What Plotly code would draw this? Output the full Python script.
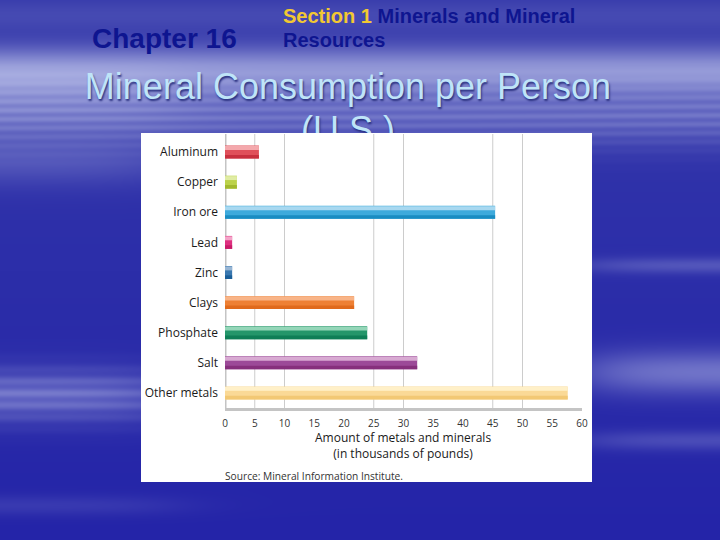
import base64, struct, zlib
import numpy as np
import plotly.graph_objects as go

# ---------------- data ----------------
minerals = ["Aluminum", "Copper", "Iron ore", "Lead", "Zinc", "Clays",
            "Phosphate", "Salt", "Other metals"]
amount_thousand_lb = [5.7, 2.0, 45.4, 1.2, 1.2, 21.7, 23.9, 32.3, 57.6]
x_tick_vals = [0, 5, 10, 15, 20, 25, 30, 35, 40, 45, 50, 55, 60]
grid_vals = [5, 10, 25, 30, 45, 50]

mid_colors = ["#e0505a", "#bcd24a", "#3eaadc", "#de3080", "#3a78b0",
              "#ee8034", "#24966a", "#9c4a98", "#fad996"]
light_colors = ["#f4a8ac", "#e0eca4", "#a8d8f0", "#f4a4c8", "#98b6d4",
                "#f8b488", "#94d6b8", "#d8aad2", "#fff0c8"]
dark_colors = ["#c8303e", "#a2b82e", "#1a8cc2", "#c81a68", "#1a5e98",
               "#e06a1c", "#0e7e56", "#86307c", "#f2c874"]

# ---------------- background image (slide) ----------------
H, W = 540, 720
Y, X = np.mgrid[0:H, 0:W].astype(float)
top = np.array([52, 56, 170.0])
bot = np.array([36, 36, 168.0])
t = (Y / H)[..., None]
base = top * (1 - t) + bot * t
cloud = np.array([200, 206, 240.0])
xl = 1 / (1 + np.exp((X - 170) / 30))
xr = 1 / (1 + np.exp(-(X - 590) / 25))
m = np.zeros_like(Y)
m += 0.62 * np.exp(-((Y - 70) / 24) ** 2)
m += 0.42 * np.exp(-((Y - 115) / 30) ** 2) * (0.85 + 0.15 * np.sin(Y * 0.7 + X * 0.004))
m += 0.12 * np.exp(-((Y - 15) / 15) ** 2)
m += 0.18 * np.exp(-((Y - 95) / 30) ** 2) * xl
m += 0.50 * np.exp(-((Y - 395) / 26) ** 2) * xl * (0.85 + 0.15 * np.sin(Y * 0.5))
m += 0.22 * np.exp(-((Y - 160) / 25) ** 2) * xl
m += 0.25 * np.exp(-((Y - 265) / 8) ** 2) * xr
m += 0.45 * np.exp(-((Y - 372) / 22) ** 2) * xr
m += 0.22 * np.exp(-((Y - 440) / 10) ** 2) * xr
m += 0.12 * np.exp(-((Y - 505) / 10) ** 2) * xl
m = np.clip(m, 0, 0.8)[..., None]
img = np.clip(base * (1 - m) + cloud * m, 0, 255).astype(np.uint8)


def to_png(arr):
    h, w, _ = arr.shape
    raw = b"".join(b"\x00" + arr[r].tobytes() for r in range(h))

    def chunk(tag, data):
        return (struct.pack(">I", len(data)) + tag + data +
                struct.pack(">I", zlib.crc32(tag + data) & 0xFFFFFFFF))
    return (b"\x89PNG\r\n\x1a\n" +
            chunk(b"IHDR", struct.pack(">IIBBBBB", w, h, 8, 2, 0, 0, 0)) +
            chunk(b"IDAT", zlib.compress(raw, 9)) + chunk(b"IEND", b""))


bg_src = "data:image/png;base64," + base64.b64encode(to_png(img)).decode()

# ---------------- figure ----------------
fig = go.Figure()
bar_w = 0.43
fig.add_trace(go.Bar(y=minerals, x=amount_thousand_lb, orientation="h",
                     width=bar_w, marker=dict(color=mid_colors, line=dict(width=0)),
                     showlegend=False, hoverinfo="x+y"))
fig.add_trace(go.Bar(y=minerals, x=amount_thousand_lb, orientation="h",
                     width=0.13, offset=-0.2,
                     marker=dict(color=light_colors, line=dict(width=0)),
                     showlegend=False, hoverinfo="skip"))
fig.add_trace(go.Bar(y=minerals, x=amount_thousand_lb, orientation="h",
                     width=0.12, offset=0.095,
                     marker=dict(color=dark_colors, line=dict(width=0)),
                     showlegend=False, hoverinfo="skip"))

title_col = "#bfe4f8"
title_font = dict(family="Liberation Sans, Arial", size=36, color=title_col,
                  shadow="1px 2px 2px #2a3080")
# title drawn in a clipped helper subplot so the chart panel hides the 2nd line
fig.add_trace(go.Scatter(x=[348, 348], y=[90, 133],
                         text=["Mineral Consumption per Person", "(U.S.)"],
                         mode="text", textposition="middle center",
                         textfont=title_font, cliponaxis=True,
                         xaxis="x3", yaxis="y3", showlegend=False, hoverinfo="skip"))

fig.update_layout(
    width=720, height=540,
    margin=dict(l=0, r=0, t=0, b=0, pad=0, autoexpand=False),
    paper_bgcolor="#2a2cae", plot_bgcolor="rgba(0,0,0,0)",
    barmode="overlay",
    xaxis=dict(domain=[225 / 720, 582 / 720], range=[0, 60],
               tickvals=x_tick_vals, showgrid=False, zeroline=False,
               showline=True, linecolor="#c4c4c4", linewidth=3,
               ticks="", ticklabelstandoff=4, automargin=False,
               tickfont=dict(family="Open Sans", size=10, color="#333333"),
               anchor="y"),
    yaxis=dict(domain=[(540 - 408) / 540, (540 - 137) / 540],
               type="category", categoryorder="array", categoryarray=minerals,
               range=[8.5, -0.5], showgrid=False, zeroline=False,
               showline=False, ticks="", ticklabelstandoff=6, automargin=False,
               tickfont=dict(family="Open Sans", size=12, color="#1a1a1a"),
               anchor="x"),
    xaxis3=dict(domain=[0, 1], range=[0, 720], visible=False, anchor="y3",
                automargin=False),
    yaxis3=dict(domain=[(540 - 133) / 540, 1], range=[540 - 407, 0],
                visible=False, anchor="x3", automargin=False),
    images=[dict(source=bg_src, xref="paper", yref="paper", x=0, y=1,
                 sizex=1, sizey=1, sizing="stretch", layer="below",
                 xanchor="left", yanchor="top")],
)

# white chart panel
shapes = [dict(type="rect", xref="paper", yref="paper",
               x0=141 / 720, x1=592 / 720, y0=1 - 482 / 540, y1=1 - 133 / 540,
               fillcolor="white", line=dict(width=0), layer="below")]
for g in grid_vals:
    shapes.append(dict(type="line", xref="x", yref="paper", x0=g, x1=g,
                       y0=1 - 408 / 540, y1=1 - 134 / 540,
                       line=dict(color="#cccccc", width=1), layer="below"))
# vertical axis line reaching panel top
shapes.append(dict(type="line", xref="x", yref="paper", x0=0, x1=0,
                   y0=1 - 409 / 540, y1=1 - 134 / 540,
                   line=dict(color="#c4c4c4", width=3), layer="below"))
fig.update_layout(shapes=shapes)

navy = "#0e1590"
ann = [
    dict(text="<b>Chapter 16</b>", x=90 / 720, y=1 - 38 / 540, xanchor="left",
         yanchor="middle", font=dict(family="Liberation Sans, Arial", size=28, color=navy)),
    dict(text="<b><span style='color:#f2c832'>Section 1</span> Minerals and Mineral</b>",
         x=281 / 720, y=1 - 16 / 540, xanchor="left", yanchor="middle",
         font=dict(family="Liberation Sans, Arial", size=20, color=navy)),
    dict(text="<b>Resources</b>", x=281 / 720, y=1 - 40 / 540, xanchor="left",
         yanchor="middle", font=dict(family="Liberation Sans, Arial", size=20, color=navy)),
    dict(text="Amount of metals and minerals<br>(in thousands of pounds)",
         x=403 / 720, y=1 - 445.5 / 540, xanchor="center", yanchor="middle",
         font=dict(family="Open Sans", size=12, color="#1a1a1a")),
    dict(text="Source: Mineral Information Institute.", x=223 / 720, y=1 - 476 / 540,
         xanchor="left", yanchor="middle",
         font=dict(family="Open Sans", size=10.2, color="#333333")),
]
for a in ann:
    a.update(xref="paper", yref="paper", showarrow=False)
fig.update_layout(annotations=ann)

fig.write_html("out.html")
